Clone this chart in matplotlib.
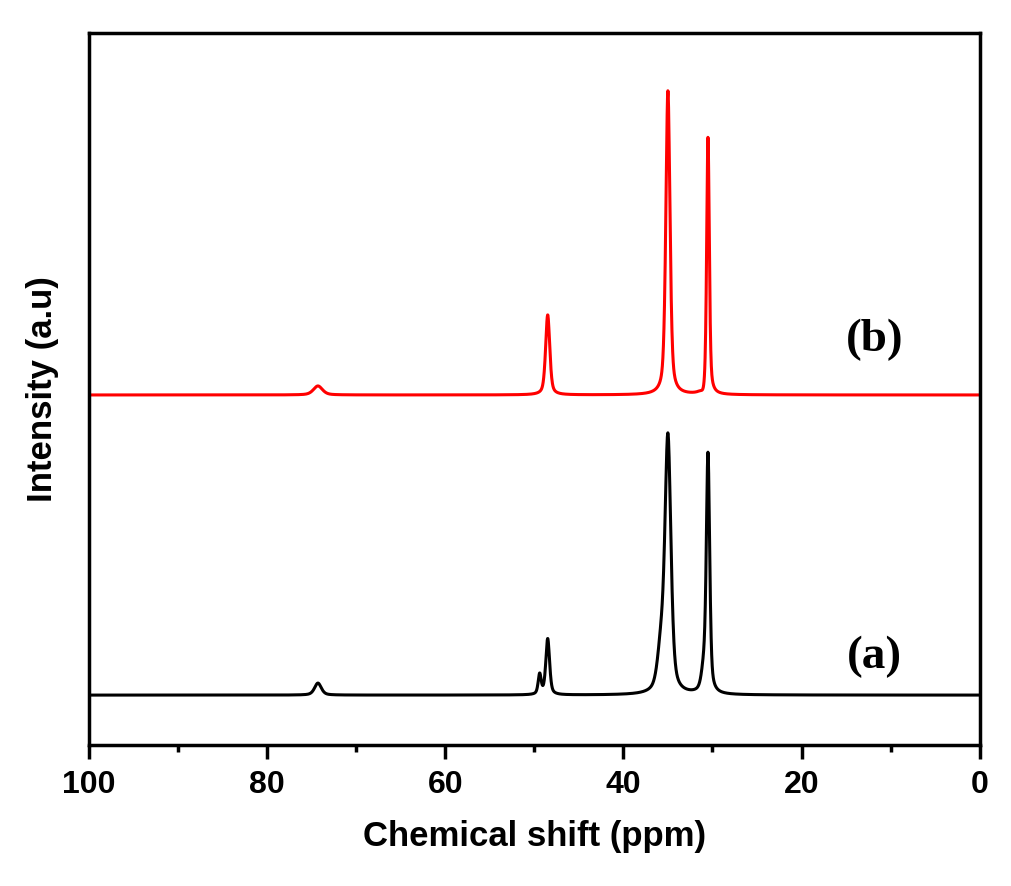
import numpy as np
import matplotlib.pyplot as plt

# peak lists: position (ppm), height, FWHM (ppm)
ppm_a = [74.3, 49.4, 48.5, 35.8, 35.0, 31.0, 30.5]
height_a = [12, 20, 56, 38, 255, 18, 238]
width_a = [0.9, 0.4, 0.5, 0.9, 0.8, 0.6, 0.45]
baseline_a = 50

ppm_b = [74.3, 48.5, 35.0, 31.0, 30.5]
height_b = [9, 80, 304, -6, 258]
width_b = [1.2, 0.55, 0.55, 0.5, 0.35]
baseline_b = 350

x = np.linspace(100, 0, 5000)


def spectrum(pos, h, w, base):
    y = np.full_like(x, base, dtype=float)
    for p, hh, ww in zip(pos, h, w):
        g = np.exp(-4 * np.log(2) * ((x - p) / ww) ** 2)
        l = 1 / (1 + 4 * ((x - p) / ww) ** 2)
        y += hh * (0.5 * g + 0.5 * l)
    return y


fig = plt.figure(figsize=(10.12, 8.86), dpi=100)
ax = fig.add_axes([0.088, 0.159, 0.880, 0.804])

ax.plot(x, spectrum(ppm_a, height_a, width_a, baseline_a), color='black', lw=2.2)
ax.plot(x, spectrum(ppm_b, height_b, width_b, baseline_b), color='red', lw=2.2)

ax.set_xlim(100, 0)
ax.set_ylim(0, 712)
ax.set_yticks([])
ax.set_xticks([100, 80, 60, 40, 20, 0])
ax.set_xticks([90, 70, 50, 30, 10], minor=True)
ax.tick_params(axis='x', which='major', length=10, width=2.5, direction='out', pad=8)
ax.tick_params(axis='x', which='minor', length=5, width=2.5, direction='out')
for s in ax.spines.values():
    s.set_linewidth(2.5)
for lbl in ax.get_xticklabels():
    lbl.set_fontfamily('Liberation Sans')
    lbl.set_fontweight('bold')
    lbl.set_fontsize(23)

ax.set_xlabel('Chemical shift (ppm)', fontsize=25, fontweight='bold',
              family='Liberation Sans', labelpad=14)
ax.set_ylabel('Intensity (a.u)', fontsize=25, fontweight='bold',
              family='Liberation Sans', labelpad=22)

ax.text(11.8, 88, '(a)', fontsize=34, fontweight='bold', family='Liberation Serif',
        ha='center', va='center')
ax.text(11.8, 405, '(b)', fontsize=34, fontweight='bold', family='Liberation Serif',
        ha='center', va='center')

fig.savefig('out.png', dpi=100)
